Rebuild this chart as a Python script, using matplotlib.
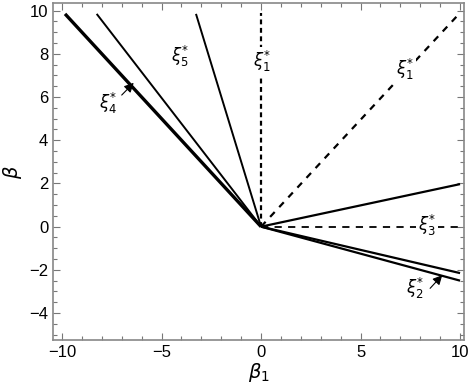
import matplotlib.pyplot as plt

plt.rcParams['font.family'] = ['Liberation Sans', 'DejaVu Sans']
plt.rcParams['mathtext.fontset'] = 'dejavusans'

# rays from the origin: end points (x, y)
solid_x = [-9.85, -8.26, -3.27, 10, 10, 10]
solid_y = [9.85, 9.85, 9.85, 1.97, -2.15, -2.5]
solid_w = [2.4, 1.4, 1.4, 1.6, 1.6, 1.6]

dashed_x = [0, 10, 10]
dashed_y = [9.9, 9.9, 0]

labels = [r'$\xi_5^{*}$', r'$\xi_4^{*}$', r'$\xi_1^{*}$', r'$\xi_1^{*}$', r'$\xi_3^{*}$', r'$\xi_2^{*}$']
label_x = [-4.07, -7.7, 0.05, 7.24, 8.35, 7.75]
label_y = [7.9, 5.7, 7.66, 7.3, 0.05, -2.85]

fig = plt.figure(figsize=(4.74, 3.86), dpi=100)
ax = fig.add_axes([0.112, 0.119, 0.867, 0.873])

for x, y, w in zip(solid_x, solid_y, solid_w):
    ax.plot([0, x], [0, y], color='black', lw=w, solid_capstyle='butt')

ax.plot([0, dashed_x[0]], [0, dashed_y[0]], color='black', lw=1.6, dashes=(2.2, 1.6))
ax.plot([0, dashed_x[1]], [0, dashed_y[1]], color='black', lw=1.6, dashes=(3, 3))
ax.plot([0, dashed_x[2]], [0, dashed_y[2]], color='black', lw=1.3, dashes=(4, 3.5))

for t, x, y in zip(labels, label_x, label_y):
    ax.text(x, y, t, fontsize=12, ha='center', va='center',
            bbox=dict(facecolor='white', edgecolor='none', pad=1.5))

ax.annotate('', xy=(-6.3, 6.75), xytext=(-7.1, 6.0),
            arrowprops=dict(arrowstyle='-|>', color='black', lw=0.8, mutation_scale=14))
ax.annotate('', xy=(9.2, -2.15), xytext=(8.4, -2.95),
            arrowprops=dict(arrowstyle='-|>', color='black', lw=0.8, mutation_scale=14))

ax.set_xlim(-10.45, 10.2)
ax.set_ylim(-5.25, 10.35)
ax.set_xticks([-10, -5, 0, 5, 10])
ax.set_xticks(range(-10, 11), minor=True)
ax.set_yticks(range(-4, 11, 2))
ax.set_yticks([v / 2 for v in range(-10, 21)], minor=True)

for s in ax.spines.values():
    s.set_color('#888888')
    s.set_linewidth(1.2)
ax.tick_params(which='both', direction='in', top=True, right=True, color='#777777',
               labelsize=12, width=0.8)
ax.tick_params(which='major', length=5)
ax.tick_params(which='minor', length=3)
ax.tick_params(labelright=False, labeltop=False)

ax.set_xlabel(r'$\beta_1$', fontsize=14, labelpad=1)
ax.set_ylabel(r'$\beta$', fontsize=14)

plt.savefig('out.png', dpi=100)
